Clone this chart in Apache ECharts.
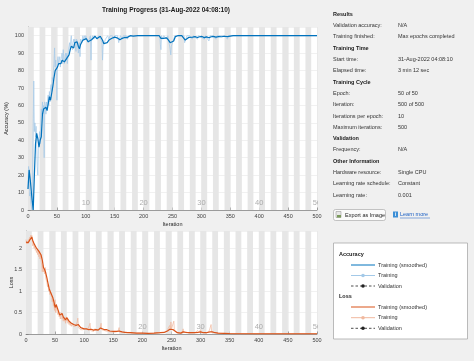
<!DOCTYPE html>
<html><head><meta charset="utf-8">
<script src="https://cdn.jsdelivr.net/npm/echarts@6/dist/echarts.min.js"></script>
<style>html,body{margin:0;padding:0;background:#f0f0f0}#c{width:474px;height:361px}</style>
</head><body><div id="c"></div><script>
// ---------------- data ----------------
const iterationsPerEpoch = 10;
const numEpochs = 50;
const accEpochLabels = [10, 20, 30, 40, 50];
const lossEpochLabels = [20, 30, 40, 50];

const accSmoothIter = [0,2,4,7,9,11,13,15,17,19,21,23,25,27,29,31,33,35,37,39,41,43,45,47,49,51,53,55,57,59,61,63,65,67,69,71,73,75,77,79,81,83,85,87,89,91,93,95,98,101,104,107,110,113,116,119,122,125,127,129,131,134,137,140,142,146,150,154,159,163,167,171,174,177,182,190,227,230,234,237,240,243,246,249,252,255,259,266,269,272,275,278,281,285,289,293,297,301,305,309,313,317,321,325,330,335,340,345,350,355,500];
const accSmoothVal = [12,23,17,6,0,20,38,44,41,36,40,42,55,58,57,59,57,61,65,63,67,71,76,80,81,82,84,85,84,86,87,85,86,87,86,89,92,94,94,93,96,96,96.5,94,92.5,95,96,97.5,98,98.3,96.5,97,97.7,98.5,99.7,98.3,99,99.7,99,97.4,95.5,95.5,96,97.5,98.3,98.7,99.2,98.8,97.7,98.5,99,98.9,99.5,100,99.8,100,100,98.5,98.5,99,98.8,97.5,96,95.2,97,99.5,100,100,99.5,97.5,98.5,99,99.6,99.2,99.5,99,99.4,99.6,98.9,99.3,98.8,99.4,99.6,99.2,99.5,99.4,99.7,99.5,99.8,100,100];

const accRawIter = [0,1,2,3,4,5,6,7,8,9,10,11,12,13,14,15,16,17,18,19,20,21,22,23,24,25,26,27,28,29,30,31,32,33,34,35,36,37,38,39,40,41,42,43,44,45,46,47,48,49,50,51,52,53,54,55,56,57,58,59,60,61,62,63,64,65,66,67,68,69,70,71,72,73,74,75,76,77,78,79,80,81,82,83,84,85,86,87,88,89,90,91,92,93,94,95,96,97,98,99,100,102,104,106,108,109,110,112,114,116,118,120,122,124,126,128,129,130,132,134,136,138,140,142,146,148,150,155,157,158,160,163,165,170,172,174,180,228,229,230,231,233,235,240,242,244,246,247,248,250,252,254,258,270,271,273,275,280,284,286,293,295,305,307,313,315,320,325,327,340,345,347,500];
const accRawVal = [12,25,22,8,10,4,2,0,0,0,74,45,50,42,48,38,25,20,35,40,45,38,50,58,55,62,55,60,30,62,60,55,62,58,64,66,60,68,62,70,72,68,76,74,80,84,93,82,86,80,63,86,88,84,86,88,82,86,88,90,84,92,86,84,88,90,86,90,84,88,92,94,96,92,98,100,94,92,96,98,96,98,94,91,98,98,96,90,92,96,88,98,98,96,98,100,98,98,100,98,100,98,96,98,100,86,98,100,98,100,100,98,100,100,98,96,86,94,96,98,98,100,98,100,100,98,100,100,96,98,100,98,100,100,98,100,100,100,95,92,100,98,100,98,100,96,92,89,94,96,98,100,100,100,96,98,100,100,98,100,98,100,98,100,97,100,100,98,100,100,98,100,100];

const lossSmoothIter = [0,2,4,6,8,10,12,14,16,18,20,22,24,26,28,30,32,34,36,38,40,42,44,46,48,50,52,54,56,58,60,62,64,66,68,70,72,74,76,78,80,82,84,86,88,90,92,94,96,100,104,108,112,116,120,124,128,131,135,139,144,150,156,160,165,170,175,180,190,200,210,220,230,238,243,247,250,253,256,260,266,270,274,280,290,296,300,305,310,316,320,325,330,340,350,400,450,500];
const lossSmoothVal = [2.14,2.12,2.13,2.18,2.22,2.26,2.16,2.1,2.05,2.0,1.97,1.93,1.9,1.84,1.72,1.55,1.5,1.42,1.3,1.17,1.05,0.98,0.95,0.85,0.75,0.62,0.68,0.6,0.52,0.44,0.46,0.48,0.4,0.37,0.33,0.38,0.35,0.3,0.28,0.25,0.24,0.22,0.21,0.2,0.22,0.22,0.18,0.15,0.13,0.12,0.12,0.1,0.11,0.09,0.1,0.09,0.14,0.13,0.1,0.1,0.07,0.06,0.06,0.07,0.05,0.04,0.03,0.03,0.02,0.02,0.015,0.02,0.03,0.04,0.07,0.11,0.12,0.1,0.06,0.03,0.02,0.05,0.04,0.03,0.03,0.04,0.05,0.03,0.03,0.05,0.05,0.03,0.02,0.015,0.01,0.005,0.004,0.003];

const lossRawIter = [0,1,2,3,4,5,6,7,8,9,10,11,12,13,14,15,16,17,18,19,20,21,22,23,24,25,26,27,28,29,30,31,32,33,34,35,36,37,38,39,40,41,42,43,44,45,46,47,48,49,50,51,52,53,54,55,56,57,58,59,60,61,62,63,64,65,66,67,68,69,70,71,72,73,74,75,76,77,78,79,80,81,82,83,84,85,86,87,88,89,90,91,92,93,94,95,96,97,98,99,100,102,104,106,108,110,111,114,116,118,120,122,125,127,129,130,133,135,138,140,143,146,149,152,155,158,160,161,165,170,175,180,190,200,210,220,230,236,240,243,245,247,248,249,250,252,254,255,258,262,268,270,271,275,280,290,295,296,300,301,305,310,315,318,319,322,325,330,340,350,400,450,500];
const lossRawVal = [2.2,2.1,2.15,2.1,2.2,2.15,2.25,2.2,2.3,2.25,2.3,2.1,2.05,2.15,2.0,2.05,1.95,2.0,1.9,1.95,1.85,1.95,1.8,1.9,1.75,1.85,1.7,1.6,1.45,1.6,1.45,1.5,1.4,1.55,1.3,1.25,1.2,1.1,1.15,1.0,1.05,0.92,1.0,0.9,0.85,0.75,0.8,0.65,0.7,0.55,0.8,0.5,0.7,0.55,0.5,0.45,0.55,0.4,0.45,0.35,0.5,0.45,0.35,0.4,0.3,0.4,0.3,0.35,0.25,0.4,0.3,0.35,0.25,0.3,0.22,0.28,0.2,0.25,0.18,0.22,0.25,0.18,0.22,0.15,0.2,0.18,0.15,0.2,0.28,0.37,0.15,0.18,0.12,0.15,0.1,0.14,0.08,0.12,0.1,0.14,0.1,0.12,0.08,0.1,0.06,0.25,0.08,0.1,0.06,0.12,0.08,0.1,0.06,0.12,0.25,0.1,0.14,0.08,0.12,0.06,0.08,0.05,0.06,0.04,0.05,0.06,0.15,0.04,0.05,0.03,0.03,0.02,0.02,0.02,0.01,0.02,0.03,0.05,0.04,0.1,0.08,0.2,0.1,0.28,0.12,0.15,0.3,0.08,0.05,0.02,0.03,0.12,0.04,0.05,0.02,0.03,0.08,0.03,0.1,0.03,0.04,0.02,0.08,0.22,0.04,0.06,0.03,0.02,0.01,0.01,0.005,0.004,0.003];

const infoRows = [
  ['Results', '', true],
  ['Validation accuracy:', 'N/A'],
  ['Training finished:', 'Max epochs completed'],
  ['Training Time', '', true],
  ['Start time:', '31-Aug-2022 04:08:10'],
  ['Elapsed time:', '3 min 12 sec'],
  ['Training Cycle', '', true],
  ['Epoch:', '50 of 50'],
  ['Iteration:', '500 of 500'],
  ['Iterations per epoch:', '10'],
  ['Maximum iterations:', '500'],
  ['Validation', '', true],
  ['Frequency:', 'N/A'],
  ['Other Information', '', true],
  ['Hardware resource:', 'Single CPU'],
  ['Learning rate schedule:', 'Constant'],
  ['Learning rate:', '0.001']
];

// ---------------- styling ----------------
const FONT = 'Liberation Sans';
const C_ACC = '#0072BD', C_ACC_RAW = '#a3c9e8';
const C_LOSS = '#D95319', C_LOSS_RAW = '#f1b89e';
const pairs = (xs, ys) => xs.map((x, i) => [x, ys[i]]);

const stripes = [];
for (let e = 1; e <= numEpochs; e += 2) {
  stripes.push([{ xAxis: (e - 1) * iterationsPerEpoch }, { xAxis: e * iterationsPerEpoch }]);
}

function xAx(gi) {
  return {
    type: 'value', gridIndex: gi, min: 0, max: 500, interval: 50,
    name: 'Iteration', nameLocation: 'middle', nameGap: 11, nameMoveOverlap: false,
    nameTextStyle: { fontSize: 5.5, color: '#262626', fontFamily: FONT },
    axisLine: { lineStyle: { color: '#7a7a7a', width: 0.7 } },
    axisTick: { inside: true, length: 2.5, lineStyle: { color: '#7a7a7a', width: 0.7 } },
    axisLabel: { fontSize: 5.5, color: '#404040', margin: 3, fontFamily: FONT },
    splitLine: { show: true, lineStyle: { color: '#e2e2e2', width: 0.5 } }
  };
}
function yAx(gi, max, interval, name, gap) {
  return {
    type: 'value', gridIndex: gi, min: 0, max: max, interval: interval,
    name: name, nameLocation: 'middle', nameGap: gap, nameRotate: 90, nameMoveOverlap: false,
    nameTextStyle: { fontSize: 5.5, color: '#262626', fontFamily: FONT },
    axisLine: { show: true, lineStyle: { color: '#7a7a7a', width: 0.7 } },
    axisTick: { show: true, inside: true, length: 2.5, lineStyle: { color: '#7a7a7a', width: 0.7 } },
    axisLabel: { fontSize: 5.5, color: '#404040', margin: 4, showMaxLabel: false, fontFamily: FONT },
    splitLine: { show: true, lineStyle: { color: '#e2e2e2', width: 0.5 } }
  };
}
function stripeSeries(gi) {
  return {
    type: 'line', xAxisIndex: gi, yAxisIndex: gi, data: [], z: 1, silent: true,
    markArea: { silent: true, itemStyle: { color: '#e6e6e6' }, data: stripes }
  };
}
function epochSeries(gi, labels) {
  return {
    type: 'scatter', xAxisIndex: gi, yAxisIndex: gi, z: 2, silent: true, clip: false,
    symbolSize: 1, itemStyle: { color: 'rgba(0,0,0,0)' },
    data: labels.map(e => ({ value: [e * iterationsPerEpoch, 0], name: String(e) })),
    label: { show: true, position: 'top', distance: 3, formatter: p => p.name,
      fontSize: 7.5, color: '#9a9a9a', fontFamily: FONT }
  };
}

const graphic = [];
// cover to clip the last epoch label at the plot edge
graphic.push({ type: 'rect', shape: { x: 318, y: 192, width: 10, height: 16 }, style: { fill: '#f0f0f0' }, z: 100 });
graphic.push({ type: 'rect', shape: { x: 318, y: 316, width: 10, height: 16 }, style: { fill: '#f0f0f0' }, z: 100 });
// title
graphic.push({ type: 'text', x: 166, y: 10, style: { text: 'Training Progress (31-Aug-2022 04:08:10)', fontSize: 6.5, fontWeight: 'bold', fontFamily: FONT, fill: '#1a1a1a', align: 'center', verticalAlign: 'middle' }, z: 100 });
// info panel
infoRows.forEach((r, i) => {
  const y = 14.3 + i * 11.3;
  graphic.push({ type: 'text', x: 333, y: y, style: { text: r[0], fontSize: 5.5, fontWeight: r[2] ? 'bold' : 'normal', fontFamily: FONT, fill: r[2] ? '#1a1a1a' : '#333333', verticalAlign: 'middle' }, z: 100 });
  if (r[1]) graphic.push({ type: 'text', x: 398, y: y, style: { text: r[1], fontSize: 5.5, fontFamily: FONT, fill: '#333333', verticalAlign: 'middle' }, z: 100 });
});
// export button
graphic.push({ type: 'rect', shape: { x: 333.5, y: 209.5, width: 52, height: 11, r: 2 }, style: { fill: '#fbfbfb', stroke: '#acacac', lineWidth: 0.7 }, z: 100 });
graphic.push({ type: 'rect', shape: { x: 336, y: 211.5, width: 5, height: 6 }, style: { fill: '#e8e8e8', stroke: '#8a8a8a', lineWidth: 0.5 }, z: 101 });
graphic.push({ type: 'rect', shape: { x: 337, y: 215, width: 4, height: 2.5 }, style: { fill: '#7a9a5a' }, z: 102 });
graphic.push({ type: 'text', x: 345, y: 215, style: { text: 'Export as Image', fontSize: 5.5, fontFamily: FONT, fill: '#222', verticalAlign: 'middle' }, z: 101 });
// learn more
graphic.push({ type: 'rect', shape: { x: 393, y: 211.5, width: 5, height: 6 }, style: { fill: '#3c8fd6' }, z: 100 });
graphic.push({ type: 'text', x: 395.5, y: 214.7, style: { text: 'i', fontSize: 5, fontWeight: 'bold', fontFamily: FONT, fill: '#fff', align: 'center', verticalAlign: 'middle' }, z: 101 });
graphic.push({ type: 'text', x: 400, y: 214.5, style: { text: 'Learn more', fontSize: 5.5, fontFamily: FONT, fill: '#1a5fc4', verticalAlign: 'middle' }, z: 100 });
graphic.push({ type: 'line', shape: { x1: 400, y1: 218, x2: 430, y2: 218 }, style: { stroke: '#1a5fc4', lineWidth: 0.5 }, z: 100 });
// legend box
graphic.push({ type: 'rect', shape: { x: 333.5, y: 243, width: 134, height: 96 }, style: { fill: '#ffffff', stroke: '#a9a9a9', lineWidth: 0.8 }, z: 100 });
const legendRows = [
  ['Accuracy', 254, null],
  ['Training (smoothed)', 265, { c: C_ACC, w: 1 }],
  ['Training', 275.5, { c: C_ACC_RAW, w: 1, m: true }],
  ['Validation', 286, { c: '#222', w: 0.8, m: true, d: true }],
  ['Loss', 296.8, null],
  ['Training (smoothed)', 307, { c: C_LOSS, w: 1 }],
  ['Training', 317.7, { c: C_LOSS_RAW, w: 1, m: true }],
  ['Validation', 328.3, { c: '#222', w: 0.8, m: true, d: true }]
];
legendRows.forEach(r => {
  if (!r[2]) {
    graphic.push({ type: 'text', x: 339, y: r[1], style: { text: r[0], fontSize: 5.5, fontWeight: 'bold', fontFamily: FONT, fill: '#1a1a1a', verticalAlign: 'middle' }, z: 101 });
    return;
  }
  const s = r[2];
  graphic.push({ type: 'line', shape: { x1: 351, y1: r[1], x2: 375, y2: r[1] }, style: { stroke: s.c, lineWidth: s.w, lineDash: s.d ? [2.5, 2] : null }, z: 101 });
  if (s.m) graphic.push({ type: 'circle', shape: { cx: 363, cy: r[1], r: 1.8 }, style: { fill: s.c }, z: 102 });
  graphic.push({ type: 'text', x: 378, y: r[1], style: { text: r[0], fontSize: 5.5, fontFamily: FONT, fill: '#333', verticalAlign: 'middle' }, z: 101 });
});

const option = {
  animation: false,
  backgroundColor: '#f0f0f0',
  textStyle: { fontFamily: FONT },
  grid: [
    { left: 28, top: 27, width: 289, height: 183, backgroundColor: '#ffffff', show: true, borderWidth: 0, containLabel: false, outerBoundsMode: 'none' },
    { left: 26, top: 231, width: 291, height: 103, backgroundColor: '#ffffff', show: true, borderWidth: 0, containLabel: false, outerBoundsMode: 'none' }
  ],
  xAxis: [xAx(0), xAx(1)],
  yAxis: [yAx(0, 105, 10, 'Accuracy (%)', 19), yAx(1, 2.4, 0.5, 'Loss', 12)],
  series: [
    stripeSeries(0), stripeSeries(1),
    epochSeries(0, accEpochLabels), epochSeries(1, lossEpochLabels),
    { type: 'line', xAxisIndex: 0, yAxisIndex: 0, z: 3, symbol: 'none', data: pairs(accRawIter, accRawVal), lineStyle: { color: C_ACC_RAW, width: 0.7 } },
    { type: 'line', xAxisIndex: 0, yAxisIndex: 0, z: 4, symbol: 'none', data: pairs(accSmoothIter, accSmoothVal), lineStyle: { color: C_ACC, width: 1.2 } },
    { type: 'line', xAxisIndex: 1, yAxisIndex: 1, z: 3, symbol: 'none', data: pairs(lossRawIter, lossRawVal), lineStyle: { color: C_LOSS_RAW, width: 0.7 } },
    { type: 'line', xAxisIndex: 1, yAxisIndex: 1, z: 4, symbol: 'none', data: pairs(lossSmoothIter, lossSmoothVal), lineStyle: { color: C_LOSS, width: 1.2 } }
  ],
  graphic: graphic
};
const chart = echarts.init(document.getElementById('c'), null, { renderer: 'canvas' });
chart.setOption(option);
</script></body></html>
